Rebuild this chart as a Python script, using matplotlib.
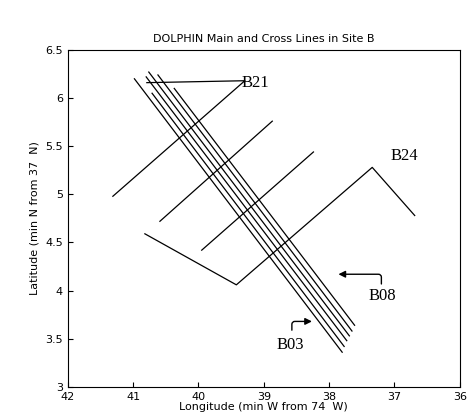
import matplotlib
matplotlib.use("Agg")
import matplotlib.pyplot as plt

# main lines (lon W, lat N) start / end
main_lon = [[40.98, 37.80], [40.71, 37.77], [40.80, 37.73], [40.76, 37.69], [40.62, 37.65], [40.37, 37.61]]
main_lat = [[6.20, 3.36], [6.05, 3.42], [6.22, 3.48], [6.27, 3.53], [6.24, 3.58], [6.10, 3.64]]

# cross lines
cross_lon = [[40.79, 39.29, 41.31], [40.59, 38.87], [39.95, 38.24], [40.82, 39.42, 37.34, 36.69]]
cross_lat = [[6.16, 6.18, 4.98], [4.72, 5.76], [4.42, 5.44], [4.59, 4.06, 5.28, 4.78]]

labels = ["B21", "B24", "B08", "B03"]
label_lon = [39.13, 36.85, 37.18, 38.60]
label_lat = [6.16, 5.40, 3.94, 3.43]

fig = plt.figure(figsize=(4.74, 4.16), dpi=100)
ax = fig.add_axes([0.143, 0.070, 0.827, 0.810])

for lo, la in zip(main_lon, main_lat):
    ax.plot(lo, la, color='black', lw=0.9)
for lo, la in zip(cross_lon, cross_lat):
    ax.plot(lo, la, color='black', lw=0.9)

for t, lo, la in zip(labels, label_lon, label_lat):
    ax.text(lo, la, t, family='Liberation Serif', fontsize=12, ha='center', va='center')

# arrows pointing at lines B08 and B03
ax.annotate('', xy=(37.90, 4.17), xytext=(37.20, 4.04),
            arrowprops=dict(arrowstyle='-|>', color='black', lw=1,
                            connectionstyle='angle,angleA=90,angleB=0,rad=3'))
ax.annotate('', xy=(38.22, 3.68), xytext=(38.57, 3.56),
            arrowprops=dict(arrowstyle='-|>', color='black', lw=1,
                            connectionstyle='angle,angleA=90,angleB=0,rad=3'))

ax.set_xlim(42, 36)
ax.set_ylim(3, 6.5)
ax.set_xticks([42, 41, 40, 39, 38, 37, 36])
ax.set_yticks([3, 3.5, 4, 4.5, 5, 5.5, 6, 6.5])
ax.set_yticklabels(['3', '3.5', '4', '4.5', '5', '5.5', '6', '6.5'])
ax.tick_params(labelsize=8, direction='in')
ax.set_xlabel('Longitude (min W from 74  W)', fontsize=8, labelpad=0)
ax.set_ylabel('Latitude (min N from 37  N)', fontsize=8)
ax.set_title('DOLPHIN Main and Cross Lines in Site B', fontsize=8)

fig.savefig('out.png', dpi=100)
